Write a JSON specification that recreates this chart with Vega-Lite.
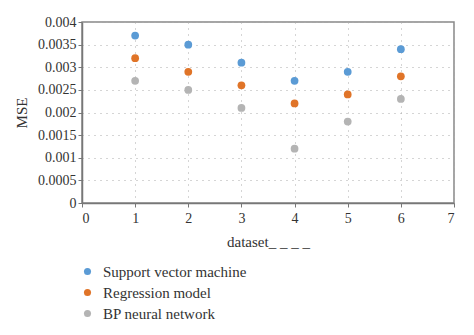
{
  "$schema": "https://vega.github.io/schema/vega-lite/v6.json",
  "width": 372,
  "height": 181,
  "autosize": "none",
  "padding": {"left": 82, "top": 22, "right": 20, "bottom": 132},
  "background": "white",
  "config": {
    "font": "Liberation Serif, Times New Roman, serif",
    "view": {"stroke": "#888888", "strokeWidth": 1.5},
    "axis": {
      "labelFont": "Liberation Serif, Times New Roman, serif",
      "titleFont": "Liberation Serif, Times New Roman, serif",
      "labelFontSize": 14,
      "titleFontSize": 15,
      "titleFontWeight": "normal",
      "labelColor": "#333333",
      "titleColor": "#333333",
      "domainColor": "#777777",
      "domainWidth": 1.5,
      "tickColor": "#777777",
      "tickSize": 4,
      "gridColor": "#aaaaaa",
      "gridDash": [1, 5],
      "gridWidth": 1
    }
  },
  "data": {
    "values": [
      {"dataset": 1, "MSE": 0.0037, "model": "Support vector machine"},
      {"dataset": 2, "MSE": 0.0035, "model": "Support vector machine"},
      {"dataset": 3, "MSE": 0.0031, "model": "Support vector machine"},
      {"dataset": 4, "MSE": 0.0027, "model": "Support vector machine"},
      {"dataset": 5, "MSE": 0.0029, "model": "Support vector machine"},
      {"dataset": 6, "MSE": 0.0034, "model": "Support vector machine"},
      {"dataset": 1, "MSE": 0.0032, "model": "Regression model"},
      {"dataset": 2, "MSE": 0.0029, "model": "Regression model"},
      {"dataset": 3, "MSE": 0.0026, "model": "Regression model"},
      {"dataset": 4, "MSE": 0.0022, "model": "Regression model"},
      {"dataset": 5, "MSE": 0.0024, "model": "Regression model"},
      {"dataset": 6, "MSE": 0.0028, "model": "Regression model"},
      {"dataset": 1, "MSE": 0.0027, "model": "BP neural network"},
      {"dataset": 2, "MSE": 0.0025, "model": "BP neural network"},
      {"dataset": 3, "MSE": 0.0021, "model": "BP neural network"},
      {"dataset": 4, "MSE": 0.0012, "model": "BP neural network"},
      {"dataset": 5, "MSE": 0.0018, "model": "BP neural network"},
      {"dataset": 6, "MSE": 0.0023, "model": "BP neural network"}
    ]
  },
  "mark": {"type": "circle", "size": 60, "opacity": 1},
  "encoding": {
    "x": {
      "field": "dataset",
      "type": "quantitative",
      "title": "dataset_ _ _ _",
      "scale": {"domain": [0, 7], "nice": false},
      "axis": {"values": [0, 1, 2, 3, 4, 5, 6, 7], "labelPadding": 4, "titlePadding": 9}
    },
    "y": {
      "field": "MSE",
      "type": "quantitative",
      "title": "MSE",
      "scale": {"domain": [0, 0.004], "nice": false},
      "axis": {
        "values": [0, 0.0005, 0.001, 0.0015, 0.002, 0.0025, 0.003, 0.0035, 0.004],
        "labelExpr": "datum.value == 0 ? '0' : format(datum.value, '~g')",
        "titlePadding": 8
      }
    },
    "color": {
      "field": "model",
      "type": "nominal",
      "sort": ["Support vector machine", "Regression model", "BP neural network"],
      "scale": {
        "domain": ["Support vector machine", "Regression model", "BP neural network"],
        "range": ["#5b9bd5", "#e07428", "#b4b4b4"]
      },
      "legend": {
        "title": null,
        "orient": "none",
        "legendX": -2,
        "legendY": 242,
        "labelFont": "Liberation Serif, Times New Roman, serif",
        "labelFontSize": 15,
        "labelColor": "#333333",
        "symbolType": "circle",
        "symbolSize": 50,
        "rowPadding": 5,
        "labelOffset": 8
      }
    }
  }
}
